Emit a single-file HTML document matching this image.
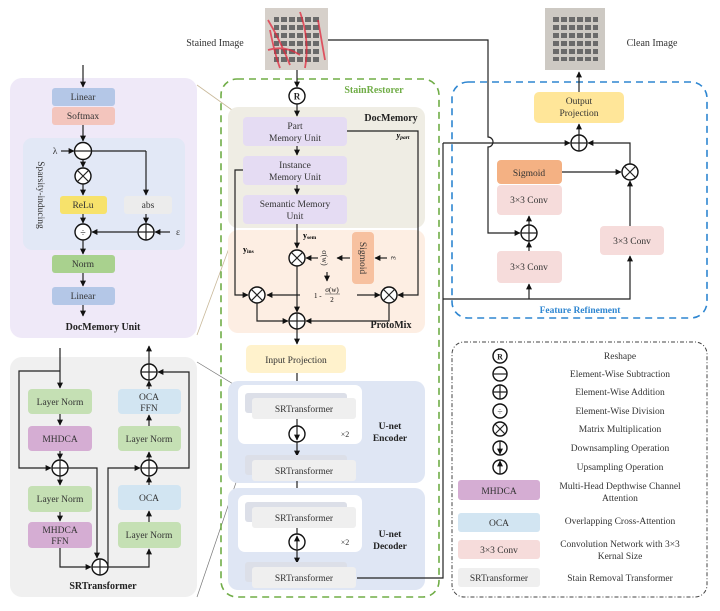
<!DOCTYPE html>
<html><head><meta charset="utf-8"><style>
html,body{margin:0;padding:0;background:#fff;}
svg{display:block;font-family:"Liberation Serif",serif;}
</style></head><body>
<svg width="720" height="611" viewBox="0 0 720 611" xmlns="http://www.w3.org/2000/svg">
<defs>
<marker id="a" viewBox="0 0 10 10" refX="9" refY="5" markerWidth="5" markerHeight="5" orient="auto"><path d="M0,0L10,5L0,10z" fill="#111"/></marker>
<pattern id="doc" x="0" y="0" width="8" height="8" patternUnits="userSpaceOnUse"><rect x="1" y="1" width="6" height="5" fill="#6a6a6a"/></pattern>
</defs>
<style>
.l{stroke:#222;stroke-width:1.2;fill:none}
.c{stroke:#111;stroke-width:1.4;fill:#fff}
.t{font-size:9.5px;fill:#333;text-anchor:middle}
.b{font-size:10px;font-weight:bold;fill:#222;text-anchor:middle}
</style>

<!-- images -->
<rect x="265" y="8" width="63" height="62" fill="#d6d0ca"/>
<rect x="274" y="16" width="46" height="46" fill="url(#doc)"/>
<path d="M268,20 Q280,40 290,65 M300,12 Q310,40 305,68 M318,20 L325,60 M268,50 Q285,45 300,55 M270,30 Q275,55 280,68" stroke="#e0283c" stroke-width="1.8" fill="none" opacity="0.75"/>
<text x="215" y="46" class="t" style="font-size:10px">Stained Image</text>
<rect x="545" y="8" width="60" height="62" fill="#cdc9c3"/>
<rect x="552" y="15" width="46" height="46" fill="url(#doc)"/>
<text x="652" y="46" class="t" style="font-size:10px">Clean Image</text>

<!-- DocMemory Unit panel -->
<rect x="10" y="78" width="187" height="260" rx="12" fill="#efe9f8"/>
<rect x="23" y="138" width="162" height="112" rx="9" fill="#e2e8f6"/>
<rect x="52" y="88" width="63" height="18" rx="3" fill="#b4c7e7"/>
<text x="83" y="100" class="t">Linear</text>
<rect x="52" y="107" width="63" height="18" rx="3" fill="#f3c5bd"/>
<text x="83" y="119" class="t">Softmax</text>
<text x="38" y="195" class="t" transform="rotate(90 38 195)">Sparsity-inducing</text>
<line x1="83" y1="65" x2="83" y2="87" class="l" marker-end="url(#a)"/>
<line x1="83" y1="125" x2="83" y2="141" class="l" marker-end="url(#a)"/>
<text x="55" y="154" class="t">λ</text>
<line x1="61" y1="151" x2="74" y2="151" class="l" marker-end="url(#a)"/>
<line x1="92" y1="151" x2="146" y2="151" class="l"/>
<line x1="146" y1="151" x2="146" y2="195" class="l" marker-end="url(#a)"/>
<circle cx="83" cy="151" r="8.5" class="c"/><line x1="74.5" y1="151" x2="91.5" y2="151" class="l"/>
<line x1="83" y1="160" x2="83" y2="167" class="l" marker-end="url(#a)"/>
<circle cx="83" cy="176" r="8" class="c"/><path d="M77.5,170.5L88.5,181.5M88.5,170.5L77.5,181.5" class="l"/>
<line x1="83" y1="184" x2="83" y2="195" class="l" marker-end="url(#a)"/>
<rect x="60" y="196" width="47" height="18" rx="3" fill="#f7e26b"/>
<text x="83" y="208" class="t">ReLu</text>
<rect x="124" y="196" width="48" height="18" rx="3" fill="#ececec"/>
<text x="148" y="208" class="t">abs</text>
<line x1="83" y1="214" x2="83" y2="223" class="l" marker-end="url(#a)"/>
<line x1="146" y1="214" x2="146" y2="223" class="l" marker-end="url(#a)"/>
<circle cx="83" cy="232" r="8" class="c"/><text x="83" y="236" class="t" style="font-size:10px">÷</text>
<circle cx="146" cy="232" r="8" class="c"/><path d="M138,232H154M146,224V240" class="l"/>
<line x1="138" y1="232" x2="92" y2="232" class="l" marker-end="url(#a)"/>
<text x="178" y="235" class="t">ε</text>
<line x1="170" y1="232" x2="155" y2="232" class="l" marker-end="url(#a)"/>
<line x1="83" y1="240" x2="83" y2="254" class="l" marker-end="url(#a)"/>
<rect x="52" y="255" width="63" height="18" rx="3" fill="#a9d18e"/>
<text x="83" y="267" class="t">Norm</text>
<line x1="83" y1="273" x2="83" y2="286" class="l" marker-end="url(#a)"/>
<rect x="52" y="287" width="63" height="18" rx="3" fill="#b4c7e7"/>
<text x="83" y="299" class="t">Linear</text>
<line x1="83" y1="305" x2="83" y2="316" class="l" marker-end="url(#a)"/>
<text x="103" y="330" class="b">DocMemory Unit</text>

<!-- SRTransformer panel -->
<rect x="10" y="357" width="187" height="240" rx="12" fill="#f0f0f0"/>
<line x1="60" y1="348" x2="60" y2="388" class="l" marker-end="url(#a)"/>
<path d="M60,371H19V468H51" class="l" marker-end="url(#a)"/>
<rect x="28" y="389" width="64" height="25" rx="4" fill="#c5e0b4"/>
<text x="60" y="405" class="t">Layer Norm</text>
<line x1="60" y1="414" x2="60" y2="425" class="l" marker-end="url(#a)"/>
<rect x="28" y="426" width="64" height="25" rx="4" fill="#d5add3"/>
<text x="60" y="442" class="t">MHDCA</text>
<line x1="60" y1="451" x2="60" y2="459" class="l" marker-end="url(#a)"/>
<circle cx="60" cy="468" r="8" class="c"/><path d="M52,468H68M60,460V476" class="l"/>
<line x1="60" y1="476" x2="60" y2="485" class="l" marker-end="url(#a)"/>
<path d="M68,468H97V558" class="l" marker-end="url(#a)"/>
<rect x="28" y="486" width="64" height="26" rx="4" fill="#c5e0b4"/>
<text x="60" y="502" class="t">Layer Norm</text>
<line x1="60" y1="512" x2="60" y2="521" class="l" marker-end="url(#a)"/>
<rect x="28" y="522" width="64" height="26" rx="4" fill="#d5add3"/>
<text x="60" y="533" class="t">MHDCA</text><text x="60" y="544" class="t">FFN</text>
<path d="M60,548V567H91" class="l" marker-end="url(#a)"/>
<circle cx="100" cy="567" r="8" class="c"/><path d="M92,567H108M100,559V575" class="l"/>
<path d="M108,567H149V549" class="l" marker-end="url(#a)"/>
<path d="M108,567V468H140" class="l" marker-end="url(#a)"/>
<rect x="118" y="522" width="63" height="26" rx="4" fill="#c5e0b4"/>
<text x="149" y="538" class="t">Layer Norm</text>
<line x1="149" y1="522" x2="149" y2="511" class="l" marker-end="url(#a)"/>
<rect x="118" y="485" width="63" height="25" rx="4" fill="#d2e5f2"/>
<text x="149" y="501" class="t">OCA</text>
<line x1="149" y1="485" x2="149" y2="477" class="l" marker-end="url(#a)"/>
<circle cx="149" cy="468" r="8" class="c"/><path d="M141,468H157M149,460V476" class="l"/>
<path d="M157,468H189V372H158" class="l" marker-end="url(#a)"/>
<line x1="149" y1="460" x2="149" y2="452" class="l" marker-end="url(#a)"/>
<rect x="118" y="426" width="63" height="25" rx="4" fill="#c5e0b4"/>
<text x="149" y="442" class="t">Layer Norm</text>
<line x1="149" y1="426" x2="149" y2="415" class="l" marker-end="url(#a)"/>
<rect x="118" y="389" width="63" height="25" rx="4" fill="#d2e5f2"/>
<text x="149" y="400" class="t">OCA</text><text x="149" y="411" class="t">FFN</text>
<line x1="149" y1="389" x2="149" y2="381" class="l" marker-end="url(#a)"/>
<circle cx="149" cy="372" r="8" class="c"/><path d="M141,372H157M149,364V380" class="l"/>
<line x1="149" y1="364" x2="149" y2="346" class="l" marker-end="url(#a)"/>
<text x="103" y="589" class="b">SRTransformer</text>

<!-- zoom lines -->
<line x1="197" y1="85" x2="232" y2="110" stroke="#c9b99a" stroke-width="0.8"/>
<line x1="197" y1="335" x2="232" y2="240" stroke="#c9b99a" stroke-width="0.8"/>
<line x1="197" y1="362" x2="248" y2="393" stroke="#777" stroke-width="0.7"/>
<line x1="197" y1="597" x2="258" y2="418" stroke="#777" stroke-width="0.7"/>

<!-- StainRestorer -->
<rect x="221" y="79" width="218" height="518" rx="16" fill="none" stroke="#70ad47" stroke-width="1.6" stroke-dasharray="7,5"/>
<text x="374" y="93" class="b" style="fill:#70ad47">StainRestorer</text>
<line x1="297" y1="70" x2="297" y2="87" class="l" marker-end="url(#a)"/>
<circle cx="297" cy="96" r="8" class="c"/><text x="297" y="99.5" class="b" style="font-size:9px">R</text>
<rect x="228" y="107" width="197" height="121" rx="10" fill="#efede4"/>
<text x="391" y="121" class="b">DocMemory</text>
<line x1="297" y1="104" x2="297" y2="116" class="l" marker-end="url(#a)"/>
<rect x="243" y="117" width="104" height="29" rx="4" fill="#e5dcf3"/>
<text x="295" y="129" class="t">Part</text><text x="295" y="141" class="t">Memory Unit</text>
<line x1="297" y1="146" x2="297" y2="155" class="l" marker-end="url(#a)"/>
<rect x="243" y="156" width="104" height="29" rx="4" fill="#e5dcf3"/>
<text x="295" y="168" class="t">Instance</text><text x="295" y="180" class="t">Memory Unit</text>
<line x1="297" y1="185" x2="297" y2="194" class="l" marker-end="url(#a)"/>
<rect x="243" y="195" width="104" height="29" rx="4" fill="#e5dcf3"/>
<text x="295" y="207" class="t">Semantic Memory</text><text x="295" y="219" class="t">Unit</text>
<rect x="228" y="230" width="197" height="103" rx="10" fill="#fdeee3"/>
<text x="391" y="328" class="b">ProtoMix</text>
<text x="403" y="138" style="font-size:8px;font-style:italic;font-weight:bold" text-anchor="middle">y<tspan font-size="5.5" dy="1">part</tspan></text>
<text x="303" y="238" style="font-size:8px;font-weight:bold">y<tspan font-size="5.5" dy="1">sem</tspan></text>
<text x="243" y="252" style="font-size:8px;font-weight:bold">y<tspan font-size="5.5" dy="1">ins</tspan></text>
<path d="M347,131H418V295H398" class="l" marker-end="url(#a)"/>
<path d="M243,170H235V295H248" class="l" marker-end="url(#a)"/>
<line x1="297" y1="224" x2="297" y2="248" class="l" marker-end="url(#a)"/>
<circle cx="297" cy="258" r="8" class="c"/><path d="M291.5,252.5L302.5,263.5M302.5,252.5L291.5,263.5" class="l"/>
<line x1="297" y1="266" x2="297" y2="312" class="l" marker-end="url(#a)"/>
<rect x="352" y="232" width="22" height="52" rx="4" fill="#f7c1a0"/>
<text x="363" y="258" class="t" transform="rotate(90 363 258)" dy="3">Sigmoid</text>
<text x="393" y="260" class="t" transform="rotate(90 393 258)">ε</text>
<line x1="387" y1="258" x2="375" y2="258" class="l" marker-end="url(#a)"/>
<line x1="350" y1="258" x2="337" y2="258" class="l" marker-end="url(#a)"/>
<text x="325" y="258" class="t" style="font-size:8px" transform="rotate(90 325 258)" dy="3">σ(w)</text>
<line x1="318" y1="258" x2="306" y2="258" class="l" marker-end="url(#a)"/>
<line x1="327" y1="272" x2="327" y2="281" class="l" marker-end="url(#a)"/>
<text x="314" y="298" style="font-size:7px">1 -</text>
<text x="332" y="292" style="font-size:7px" text-anchor="middle">σ(w)</text>
<line x1="325" y1="294" x2="340" y2="294" stroke="#333" stroke-width="0.5"/>
<text x="332" y="302" style="font-size:7px" text-anchor="middle">2</text>
<line x1="300" y1="295" x2="267" y2="295" class="l" marker-end="url(#a)"/>
<line x1="357" y1="295" x2="380" y2="295" class="l" marker-end="url(#a)"/>
<circle cx="257" cy="295" r="8" class="c"/><path d="M251.5,289.5L262.5,300.5M262.5,289.5L251.5,300.5" class="l"/>
<circle cx="389" cy="295" r="8" class="c"/><path d="M383.5,289.5L394.5,300.5M394.5,289.5L383.5,300.5" class="l"/>
<path d="M257,303V321H288" class="l" marker-end="url(#a)"/>
<path d="M389,303V321H306" class="l" marker-end="url(#a)"/>
<circle cx="297" cy="321" r="8" class="c"/><path d="M289,321H305M297,313V329" class="l"/>
<line x1="297" y1="329" x2="297" y2="344" class="l" marker-end="url(#a)"/>
<rect x="246" y="345" width="100" height="28" rx="5" fill="#fff2cc"/>
<text x="296" y="363" class="t">Input Projection</text>
<line x1="297" y1="373" x2="297" y2="397" class="l" marker-end="url(#a)"/>

<rect x="228" y="381" width="197" height="102" rx="10" fill="#dfe6f4"/>
<rect x="238" y="385" width="124" height="59" rx="7" fill="#fff"/>
<text x="390" y="429" class="b" style="font-size:9.5px">U-net</text><text x="390" y="441" class="b" style="font-size:9.5px">Encoder</text>
<rect x="245" y="393" width="102" height="20" rx="3" fill="#dcdfe8"/>
<rect x="252" y="398" width="104" height="21" rx="3" fill="#efefef"/>
<text x="304" y="412" class="t">SRTransformer</text>
<line x1="297" y1="419" x2="297" y2="456" class="l" marker-end="url(#a)"/>
<circle cx="297" cy="434" r="8" class="c"/><line x1="297" y1="426" x2="297" y2="440" class="l" marker-end="url(#a)"/>
<text x="345" y="437" class="t" style="font-size:8px">×2</text>
<rect x="245" y="455" width="102" height="20" rx="3" fill="#dcdfe8"/>
<rect x="252" y="460" width="104" height="21" rx="3" fill="#efefef"/>
<text x="304" y="474" class="t">SRTransformer</text>
<line x1="297" y1="481" x2="297" y2="505" class="l" marker-end="url(#a)"/>

<rect x="228" y="488" width="197" height="102" rx="10" fill="#dfe6f4"/>
<rect x="238" y="495" width="124" height="57" rx="7" fill="#fff"/>
<text x="390" y="537" class="b" style="font-size:9.5px">U-net</text><text x="390" y="549" class="b" style="font-size:9.5px">Decoder</text>
<rect x="245" y="502" width="102" height="20" rx="3" fill="#dcdfe8"/>
<rect x="252" y="507" width="104" height="21" rx="3" fill="#efefef"/>
<text x="304" y="521" class="t">SRTransformer</text>
<line x1="297" y1="528" x2="297" y2="563" class="l" marker-end="url(#a)"/>
<circle cx="297" cy="542" r="8" class="c"/><line x1="297" y1="549" x2="297" y2="536" class="l" marker-end="url(#a)"/>
<text x="345" y="545" class="t" style="font-size:8px">×2</text>
<rect x="245" y="562" width="102" height="20" rx="3" fill="#dcdfe8"/>
<rect x="252" y="567" width="104" height="21" rx="3" fill="#efefef"/>
<text x="304" y="581" class="t">SRTransformer</text>
<path d="M357,578H443V143" class="l"/>

<!-- Feature Refinement -->
<rect x="452" y="82" width="255" height="236" rx="16" fill="none" stroke="#2e86d1" stroke-width="1.6" stroke-dasharray="7,5"/>
<text x="580" y="313" class="b" style="fill:#2e86d1;font-size:9.5px">Feature Refinement</text>
<path d="M328,40H488V137 A5,5 0 0 1 488,147 V233H520" class="l" marker-end="url(#a)"/>
<path d="M443,143H570" class="l" marker-end="url(#a)"/>
<path d="M630,164V143H588" class="l" marker-end="url(#a)"/>
<circle cx="579" cy="143" r="8" class="c"/><path d="M571,143H587M579,135V151" class="l"/>
<line x1="579" y1="135" x2="579" y2="124" class="l" marker-end="url(#a)"/>
<rect x="534" y="92" width="90" height="31" rx="5" fill="#ffe699"/>
<text x="579" y="104" class="t">Output</text><text x="579" y="116" class="t">Projection</text>
<line x1="579" y1="92" x2="579" y2="72" class="l" marker-end="url(#a)"/>
<rect x="497" y="160" width="65" height="24" rx="4" fill="#f4b183"/>
<text x="529" y="176" class="t">Sigmoid</text>
<rect x="497" y="185" width="65" height="30" rx="4" fill="#f6dcdb"/>
<text x="529" y="203" class="t">3×3 Conv</text>
<line x1="562" y1="172" x2="621" y2="172" class="l" marker-end="url(#a)"/>
<circle cx="630" cy="172" r="8" class="c"/><path d="M624.5,166.5L635.5,177.5M635.5,166.5L624.5,177.5" class="l"/>
<line x1="630" y1="226" x2="630" y2="181" class="l" marker-end="url(#a)"/>
<circle cx="529" cy="233" r="8" class="c"/><path d="M521,233H537M529,225V241" class="l"/>
<line x1="529" y1="225" x2="529" y2="216" class="l" marker-end="url(#a)"/>
<line x1="529" y1="251" x2="529" y2="242" class="l" marker-end="url(#a)"/>
<rect x="497" y="251" width="65" height="32" rx="4" fill="#f6dcdb"/>
<text x="529" y="270" class="t">3×3 Conv</text>
<rect x="600" y="226" width="64" height="29" rx="4" fill="#f6dcdb"/>
<text x="632" y="244" class="t">3×3 Conv</text>
<path d="M443,299H630V256" class="l" marker-end="url(#a)"/>
<line x1="529" y1="299" x2="529" y2="284" class="l" marker-end="url(#a)"/>

<!-- Legend -->
<rect x="452" y="342" width="255" height="255" rx="12" fill="none" stroke="#444" stroke-width="1" stroke-dasharray="4,2,1,2"/>
<circle cx="500" cy="356" r="7" class="c"/><text x="500" y="359.5" class="b" style="font-size:8px">R</text>
<text x="620" y="359" class="t">Reshape</text>
<circle cx="500" cy="374" r="7" class="c"/><line x1="493" y1="374" x2="507" y2="374" class="l"/>
<text x="620" y="377" class="t">Element-Wise Subtraction</text>
<circle cx="500" cy="392" r="7" class="c"/><path d="M493,392H507M500,385V399" class="l"/>
<text x="620" y="395" class="t">Element-Wise Addition</text>
<circle cx="500" cy="411" r="7" class="c"/><text x="500" y="414.5" class="t">÷</text>
<text x="620" y="414" class="t">Element-Wise Division</text>
<circle cx="500" cy="429" r="7" class="c"/><path d="M495,424L505,434M505,424L495,434" class="l"/>
<text x="620" y="432" class="t">Matrix Multiplication</text>
<circle cx="500" cy="448" r="7" class="c"/><line x1="500" y1="441" x2="500" y2="454" class="l" marker-end="url(#a)"/>
<text x="620" y="451" class="t">Downsampling Operation</text>
<circle cx="500" cy="467" r="7" class="c"/><line x1="500" y1="474" x2="500" y2="461" class="l" marker-end="url(#a)"/>
<text x="620" y="470" class="t">Upsampling Operation</text>
<rect x="458" y="480" width="82" height="20" rx="3" fill="#d5add3"/>
<text x="499" y="494" class="t">MHDCA</text>
<text x="620" y="489" class="t">Multi-Head Depthwise Channel</text><text x="620" y="501" class="t">Attention</text>
<rect x="458" y="513" width="82" height="19" rx="3" fill="#d2e5f2"/>
<text x="499" y="526" class="t">OCA</text>
<text x="620" y="524" class="t">Overlapping Cross-Attention</text>
<rect x="458" y="540" width="82" height="19" rx="3" fill="#f6dcdb"/>
<text x="499" y="553" class="t">3×3 Conv</text>
<text x="620" y="547" class="t">Convolution Network with 3×3</text><text x="620" y="559" class="t">Kernal Size</text>
<rect x="458" y="568" width="82" height="19" rx="3" fill="#efefef"/>
<text x="499" y="581" class="t">SRTransformer</text>
<text x="620" y="581" class="t">Stain Removal Transformer</text>
</svg>
</body></html>
